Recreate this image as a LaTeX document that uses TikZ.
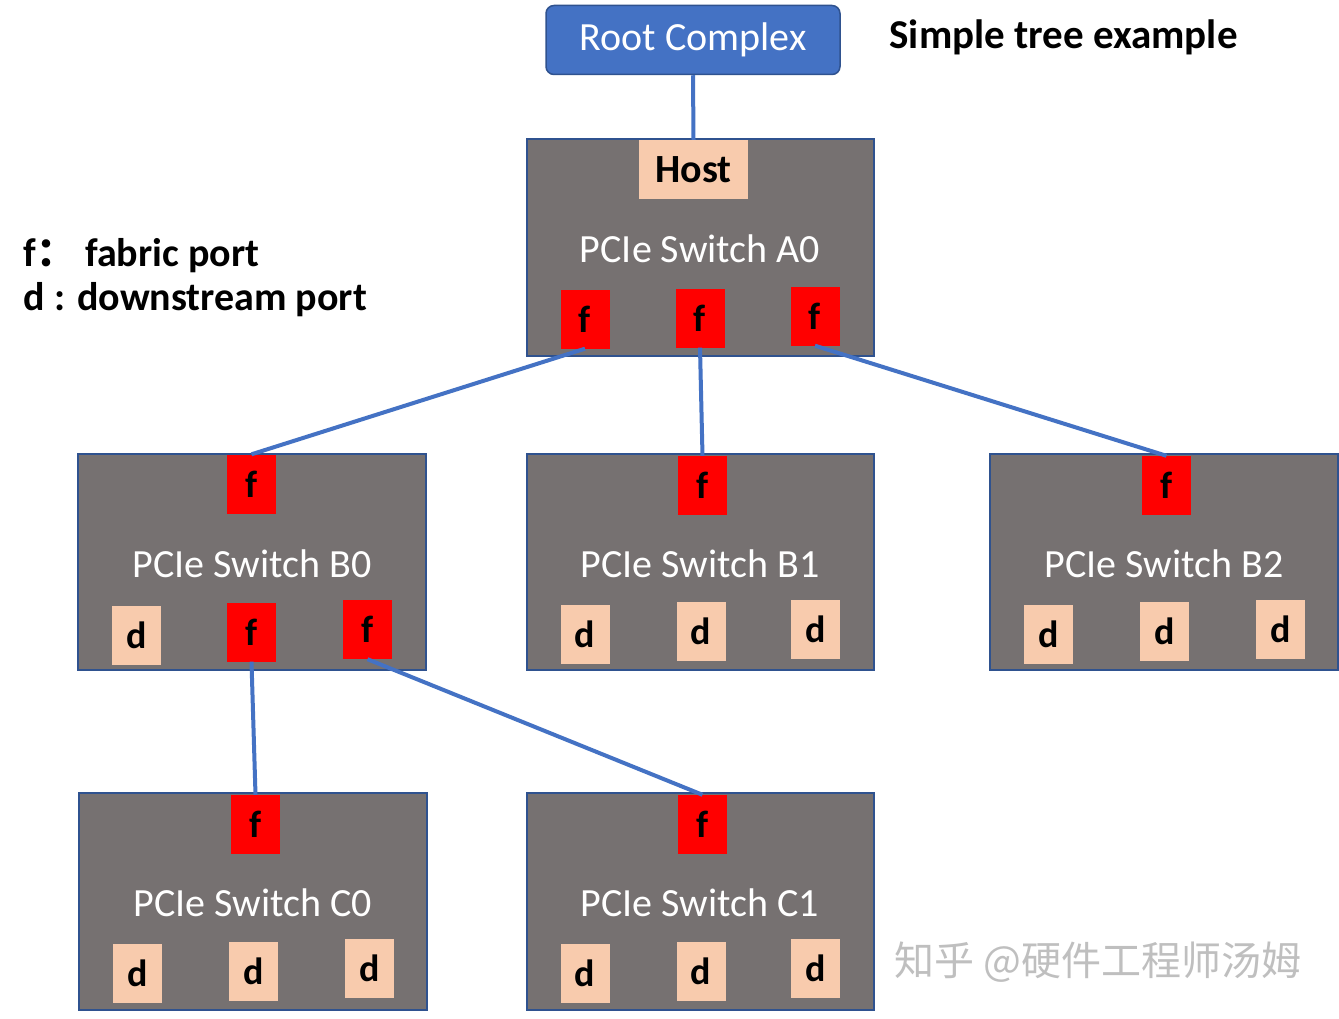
\documentclass[tikz,border=0pt]{standalone}
\usepackage{fontspec}
\setmainfont{Carlito}
\newfontfamily\cjk{Noto Sans CJK SC}
\begin{document}
\begin{tikzpicture}[x=1pt,y=-1pt,
  sw/.style={draw=swborder,line width=1.5pt,fill=swgray,inner sep=0},
  fp/.style={fill=red,minimum width=49pt,minimum height=59pt,inner sep=0,font=\fontsize{38}{40}\selectfont\bfseries,text=black},
  dp/.style={fill=peach,minimum width=49pt,minimum height=59pt,inner sep=0,font=\fontsize{38}{40}\selectfont\bfseries,text=black},
  lbl/.style={text=white,font=\fontsize{40}{42}\selectfont},
  wire/.style={draw=wblue,line width=4pt}]
\definecolor{swgray}{HTML}{767171}
\definecolor{swborder}{HTML}{2F528F}
\definecolor{peach}{HTML}{F8CBAD}
\definecolor{wblue}{HTML}{4472C4}
\useasboundingbox (0,0) rectangle (1339,1019);
\fill[white] (0,0) rectangle (1339,1019);
% root
\node[draw=swborder,line width=1.5pt,fill=wblue,rounded corners=8pt,minimum width=294pt,minimum height=69pt,text=white,font=\fontsize{40}{42}\selectfont] (root) at (693,40) {Root Complex};
\node[font=\fontsize{41}{43}\selectfont\bfseries,anchor=west] (title) at (886,37) {Simple tree example};
\node[font=\fontsize{40}{42}\selectfont\bfseries,anchor=west] (leg1) at (20,256) {f{\cjk ：} fabric port};
\node[font=\fontsize{40}{42}\selectfont\bfseries,anchor=west] (leg2) at (20,300) {d : downstream port};
% A0
\node[sw,minimum width=347pt,minimum height=217pt] (A0) at (700.5,247.5) {};
\node[fill=peach,minimum width=109pt,minimum height=59pt,inner sep=0,font=\fontsize{40}{42}\selectfont\bfseries] (host) at (693.5,169.5) {Host};
\node[lbl] (tA0) at (700,249) {PCIe Switch A0};
\node[fp] (a1) at (585,319) {f};
\node[fp] (a2) at (700,318) {f};
\node[fp] (a3) at (815,316) {f};
% B0
\node[sw,minimum width=348pt,minimum height=216pt] (B0) at (252,562) {};
\node[fp] (b0f) at (251.5,484) {f};
\node[lbl] (tB0) at (252,564) {PCIe Switch B0};
\node[dp] (b0d1) at (136.5,635) {d};
\node[fp] (b0f2) at (251.5,632) {f};
\node[fp] (b0f3) at (367.5,629.5) {f};
% B1
\node[sw,minimum width=347pt,minimum height=216pt] (B1) at (700.5,562) {};
\node[fp] (b1f) at (702.5,485.5) {f};
\node[lbl] (tB1) at (700,564) {PCIe Switch B1};
\node[dp] (b1d1) at (585,634) {d};
\node[dp] (b1d2) at (701,631.5) {d};
\node[dp] (b1d3) at (815.5,629.5) {d};
% B2
\node[sw,minimum width=348pt,minimum height=216pt] (B2) at (1164,562) {};
\node[fp] (b2f) at (1166.5,485.5) {f};
\node[lbl] (tB2) at (1164,564) {PCIe Switch B2};
\node[dp] (b2d1) at (1048.5,634) {d};
\node[dp] (b2d2) at (1164.5,631.5) {d};
\node[dp] (b2d3) at (1280.5,629.5) {d};
% C0
\node[sw,minimum width=348pt,minimum height=217pt] (C0) at (253,901.5) {};
\node[fp] (c0f) at (255.5,824.5) {f};
\node[lbl] (tC0) at (253,903) {PCIe Switch C0};
\node[dp] (c0d1) at (137.5,973) {d};
\node[dp] (c0d2) at (253.5,971) {d};
\node[dp] (c0d3) at (369.5,968.5) {d};
% C1
\node[sw,minimum width=347pt,minimum height=217pt] (C1) at (700.5,901.5) {};
\node[fp] (c1f) at (702.5,824.5) {f};
\node[lbl] (tC1) at (700,903) {PCIe Switch C1};
\node[dp] (c1d1) at (585,973) {d};
\node[dp] (c1d2) at (701,971) {d};
\node[dp] (c1d3) at (815.5,968.5) {d};
% wires
\draw[wire] (root.south) -- (host.north);
\draw[wire] (a1.south) -- (b0f.north);
\draw[wire] (a2.south) -- (b1f.north);
\draw[wire] (a3.south) -- (b2f.north);
\draw[wire] (b0f2.south) -- (c0f.north);
\draw[wire] (b0f3.south) -- (c1f.north);
% watermark
\node[text=black!25,font=\cjk\fontsize{40}{42}\selectfont,anchor=west] (wm) at (891,962) {知乎 @硬件工程师汤姆};
\end{tikzpicture}
\end{document}
